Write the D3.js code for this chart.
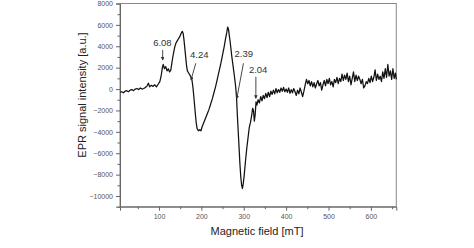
<!DOCTYPE html>
<html>
<head>
<meta charset="utf-8">
<script src="https://cdn.jsdelivr.net/npm/d3@7"></script>
<style>
  body { margin: 0; background: #fff; }
  svg { display: block; }
</style>
</head>
<body>
<script>
// EPR spectrum
const field = [8, 12, 16, 20, 24, 28, 32, 36, 40, 44, 48, 52, 56, 60, 64, 68, 72, 75, 78, 82, 86, 90, 94, 98,
  102, 105, 108, 110, 113, 116, 119, 122, 125, 128, 131, 134, 137, 140, 143, 146, 149, 152, 155, 157, 159,
  161, 163, 165, 167, 170, 173, 176, 178, 180, 182, 184, 186, 188, 190, 193, 196, 199, 202, 206, 210, 214,
  218, 222, 226, 230, 234, 238, 242, 246, 250, 254, 257, 260, 262, 264, 266, 268, 270, 272, 275, 278, 281,
  283, 285, 287, 289, 291, 293, 295, 297, 299, 301, 304, 307, 310, 313, 316, 319, 321, 323, 325, 327, 329,
  331, 334, 337, 340, 343, 346, 349, 352, 355, 358, 361, 364, 367, 370, 373, 376, 379, 382, 385, 388, 391,
  394, 397, 400, 403, 406, 409, 412, 415, 418, 421, 424, 427, 430, 433, 436, 439, 442, 445, 448, 451, 454,
  457, 460, 463, 466, 469, 472, 475, 478, 481, 484, 487, 490, 493, 496, 499, 502, 505, 508, 511, 514, 517,
  520, 523, 526, 529, 532, 535, 538, 541, 544, 547, 550, 553, 556, 559, 562, 565, 568, 571, 574, 577, 580,
  583, 586, 589, 592, 595, 598, 601, 604, 607, 610, 613, 616, 619, 622, 625, 628, 631, 634, 637, 640, 643,
  646, 649, 652, 655, 658, 660];
const intensity = [-300, -250, -350, -200, -150, -250, -100, -50, -150, 0, 50, -50, 100, 0, 50, 150, 300, 550, 200, 350, 250, 400, 200, 450,
  700, 1200, 2000, 2300, 1900, 2100, 1700, 1900, 1600, 1800, 2600, 3300, 3900, 4300, 4500, 4700, 4900, 5200, 5400, 5200, 4600,
  3800, 3000, 2200, 1700, 1500, 1300, 1100, 800, 200, -600, -1500, -2400, -3200, -3700, -3900, -3800, -3900, -3500, -3100, -2700, -2300,
  -1900, -1400, -900, -300, 300, 1000, 1700, 2400, 3200, 4000, 4700, 5300, 5800, 5600, 5000, 4400, 3700, 3000, 2100, 1200, 200,
  -800, -2500, -4000, -5500, -7000, -8200, -9000, -9300, -8800, -8100, -6800, -5600, -4600, -3600, -3100, -2400, -1800, -2000, -3000, -2400, -1200,
  -1500, -1000, -1300, -700, -1100, -600, -900, -400, -800, -300, -700, -200, -500, -100, -450, 50, -350, -50, -300, 100, -200,
  150, -250, 0, -300, 100, -400, -50, -350, 50, -250, -600, -100, -450, 100, -300, -700, -200, 400, 900, 500, 800,
  300, 700, 200, 600, 100, 500, 800, 300, 600, -100, 400, 800, 300, 900, 500, 1000, 400, 700, 200, 900, 600,
  1100, 500, 1000, 700, 1400, 800, 1300, 900, 1500, 700, 1200, 400, 1000, 1600, 700, 1300, 800, 1200, 900, 500, 900,
  100, 300, 700, 500, 1000, 600, 1200, 700, 1100, 1800, 800, 1400, 900, 1200, 700, 1600, 1000, 1900, 1100, 2300, 1200,
  1700, 900, 1900, 1000, 1500, 900];

// g-factor labels: text position and arrow (from -> to), in data units
const gLabels = ["6.08", "4.24", "2.39", "2.04"];
const gTextAt = [[108, 4300], [195, 3250], [300, 3350], [334, 1780]];
const gArrowFrom = [[108.7, 3660], [186.8, 2410], [299.3, 2410], [328.6, 1150]];
const gArrowTo = [[108.7, 2720], [175.6, 845], [283.7, -870], [328.6, -870]];

const xTicks = [100, 200, 300, 400, 500, 600];
const yTicks = [-10000, -8000, -6000, -4000, -2000, 0, 2000, 4000, 6000, 8000];

const width = 474;
const height = 248;
const margin = { top: 3.5, right: 77.7, bottom: 41.3, left: 120 };

const svg = d3.select("body").append("svg")
  .attr("width", width)
  .attr("height", height)
  .style("font-family", "'Liberation Sans', Arial, sans-serif");

const x = d3.scaleLinear().domain([8, 660]).range([margin.left, width - margin.right]);
const y = d3.scaleLinear().domain([-11000, 8000]).range([height - margin.bottom, margin.top]);

svg.append("defs").append("marker")
  .attr("id", "head")
  .attr("viewBox", "0 0 6 6")
  .attr("refX", 5).attr("refY", 3)
  .attr("markerWidth", 4).attr("markerHeight", 4)
  .attr("orient", "auto")
  .append("path")
  .attr("d", "M0,0L6,3L0,6Z")
  .attr("fill", "#333");

// frame
svg.append("rect")
  .attr("x", x(8)).attr("y", y(8000))
  .attr("width", x(660) - x(8)).attr("height", y(-11000) - y(8000))
  .attr("fill", "none").attr("stroke", "#888").attr("stroke-width", 1);

const axisColor = "#666";

const gx = svg.append("g")
  .attr("transform", `translate(0,${y(-11000)})`)
  .call(d3.axisBottom(x).tickValues(xTicks).tickSize(4).tickPadding(3));
svg.append("g")
  .attr("transform", `translate(0,${y(-11000)})`)
  .call(d3.axisBottom(x).tickValues([50, 150, 250, 350, 450, 550, 650]).tickSize(2.5).tickFormat(""))
  .call(g => g.select(".domain").remove())
  .selectAll("line").attr("stroke", axisColor);

const gy = svg.append("g")
  .attr("transform", `translate(${x(8)},0)`)
  .call(d3.axisLeft(y).tickValues(yTicks).tickSize(4).tickPadding(3).tickFormat(d3.format("d")));
svg.append("g")
  .attr("transform", `translate(${x(8)},0)`)
  .call(d3.axisLeft(y).tickValues(d3.range(-11000, 8000, 2000)).tickSize(2.5).tickFormat(""))
  .call(g => g.select(".domain").remove())
  .selectAll("line").attr("stroke", axisColor);

[gx, gy].forEach(g => {
  g.select(".domain").attr("stroke", axisColor);
  g.selectAll(".tick line").attr("stroke", axisColor);
  g.selectAll(".tick text").attr("fill", "#555").style("font-size", "7px");
});

// spectrum
const pts = field.map((f, i) => [f, intensity[i]]);
svg.append("path")
  .datum(pts)
  .attr("fill", "none")
  .attr("stroke", "#111")
  .attr("stroke-width", 1.25)
  .attr("stroke-linejoin", "round")
  .attr("d", d3.line().x(d => x(d[0])).y(d => y(d[1])));

// g-factor annotations
svg.selectAll(".glabel")
  .data(gLabels)
  .enter()
  .append("text")
  .attr("class", "glabel")
  .attr("x", (d, i) => x(gTextAt[i][0]))
  .attr("y", (d, i) => y(gTextAt[i][1]))
  .attr("text-anchor", "middle")
  .attr("dy", "0.35em")
  .attr("fill", "#333")
  .style("font-size", "9.5px")
  .text(d => d);

svg.selectAll(".garrow")
  .data(gLabels)
  .enter()
  .append("line")
  .attr("class", "garrow")
  .attr("x1", (d, i) => x(gArrowFrom[i][0]))
  .attr("y1", (d, i) => y(gArrowFrom[i][1]))
  .attr("x2", (d, i) => x(gArrowTo[i][0]))
  .attr("y2", (d, i) => y(gArrowTo[i][1]))
  .attr("stroke", "#333")
  .attr("stroke-width", 0.9)
  .attr("marker-end", "url(#head)");

// axis titles
svg.append("text")
  .attr("x", 257)
  .attr("y", 231)
  .attr("dy", "0.35em")
  .attr("text-anchor", "middle")
  .attr("fill", "#222")
  .style("font-size", "11px")
  .text("Magnetic field [mT]");

svg.append("text")
  .attr("transform", "translate(82,95) rotate(-90)")
  .attr("dy", "0.35em")
  .attr("text-anchor", "middle")
  .attr("fill", "#222")
  .style("font-size", "11px")
  .text("EPR signal intensity [a.u.]");
</script>
</body>
</html>
